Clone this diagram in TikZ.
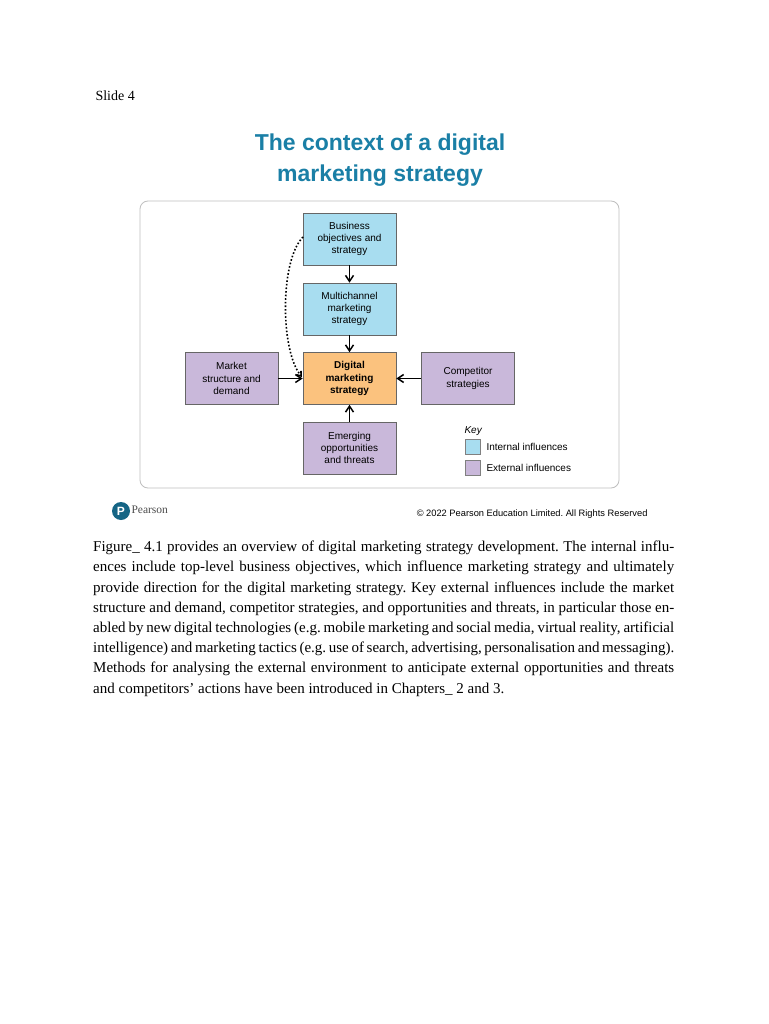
\documentclass[tikz,border=0pt]{standalone}
\usepackage{fontspec}
\setmainfont{Liberation Serif}
\newfontfamily\sff{Liberation Sans}
\usetikzlibrary{arrows.meta}
\definecolor{intc}{HTML}{A8DDF0}
\definecolor{extc}{HTML}{C9B8DA}
\definecolor{digc}{HTML}{FBC27E}
\definecolor{titc}{HTML}{1A7FA6}
\begin{document}
\frenchspacing
\begin{tikzpicture}[x=1pt,y=-1pt,
  bx/.style={draw=black!60,line width=0.6pt,minimum width=93pt,minimum height=52pt,align=center,font=\sff\fontsize{10}{12.2}\selectfont,inner sep=1pt},
  arr/.style={-{Straight Barb[length=6pt,width=8pt]},line width=1.5pt}]
\useasboundingbox (0,0) rectangle (768,1024);
\fill[white] (0,0) rectangle (768,1024);
\node[anchor=west,font=\fontsize{14}{16}\selectfont] (slide) at (92,96) {Slide 4};
\node[align=center,text=titc,font=\sff\bfseries\fontsize{23}{31}\selectfont] (title) at (380,160) {The context of a digital\\marketing strategy};
\draw[black!25,rounded corners=8pt,line width=0.8pt] (140,201) rectangle (619,488);
\node[bx,fill=intc] (bus) at (349.5,239) {Business\\objectives and\\strategy};
\node[bx,fill=intc] (mul) at (349.5,309) {Multichannel\\marketing\\strategy};
\node[bx,fill=digc,font=\sff\bfseries\fontsize{10}{12.2}\selectfont] (dig) at (349.5,378.5) {Digital\\marketing\\strategy};
\node[bx,fill=extc] (emg) at (349.5,448) {Emerging\\opportunities\\and threats};
\node[bx,fill=extc] (mkt) at (231.5,378.5) {Market\\structure and\\demand};
\node[bx,fill=extc] (cmp) at (468,378.5) {Competitor\\strategies};
\draw[arr] (bus) -- (mul);
\draw[arr] (mul) -- (dig);
\draw[arr] (mkt) -- (dig);
\draw[arr] (cmp) -- (dig);
\draw[arr] (emg) -- (dig);
\coordinate (ds) at (303,237);
\coordinate (de) at (302,377);
\draw[dotted,line width=1.6pt,-{Straight Barb[length=4pt,width=6pt]}] (ds) .. controls (280,260) and (280,350) .. (de);
\node[anchor=west,font=\sff\itshape\fontsize{10}{12}\selectfont] (key) at (461,431) {Key};
\node[draw=black!50,fill=intc,minimum size=15pt,inner sep=0pt] (ki) at (472.5,446.5) {};
\node[draw=black!50,fill=extc,minimum size=15pt,inner sep=0pt] (ke) at (472.5,467.5) {};
\node[anchor=west,font=\sff\fontsize{10}{12}\selectfont] (kit) at (483,446.5) {Internal influences};
\node[anchor=west,font=\sff\fontsize{10}{12}\selectfont] (ket) at (483,467.5) {External influences};
\fill[titc!80!black] (121,511) circle (9pt);
\node[text=white,font=\sff\bfseries\fontsize{12}{12}\selectfont] (plogo) at (121,511) {P};
\node[anchor=west,text=black!70,font=\fontsize{11.5}{12}\selectfont] (pear) at (128,510) {Pearson};
\node[anchor=east,font=\sff\fontsize{9.3}{10}\selectfont] (copy) at (651,514) {© 2022 Pearson Education Limited. All Rights Reserved};
\node[anchor=north west,text width=581pt,inner sep=0pt,align=justify,font=\fontsize{15}{20.2}\selectfont] (para) at (93,541) {Figure\_ 4.1 provides an overview of digital marketing strategy development. The internal influences include top-level business objectives, which influence marketing strategy and ultimately provide direction for the digital marketing strategy. Key external influences include the market structure and demand, competitor strategies, and opportunities and threats, in particular those enabled by new digital technologies (e.g. mobile marketing and social media, virtual reality, artificial intelligence) and marketing tactics (e.g. use of search, advertising, personalisation and messaging). Methods for analysing the external environment to anticipate external opportunities and threats and competitors’ actions have been introduced in Chapters\_ 2 and 3.};
\end{tikzpicture}
\end{document}
